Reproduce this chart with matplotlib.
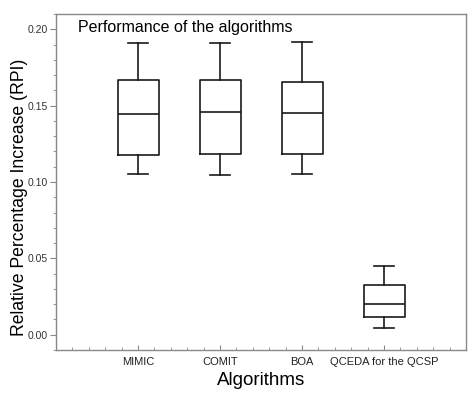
import matplotlib
matplotlib.use("Agg")
import matplotlib.pyplot as plt
from matplotlib.ticker import MultipleLocator

plt.rcParams["font.family"] = ["Liberation Sans", "DejaVu Sans"]

algorithms = ["MIMIC", "COMIT", "BOA", "QCEDA for the QCSP"]
whislo = [0.1054, 0.1046, 0.1050, 0.0042]
q1 = [0.1179, 0.1185, 0.1185, 0.0114]
med = [0.1447, 0.1458, 0.1450, 0.0201]
q3 = [0.1668, 0.1666, 0.1657, 0.0324]
whishi = [0.1912, 0.1910, 0.1919, 0.0450]

stats = []
for i in range(len(algorithms)):
    stats.append({"label": algorithms[i], "whislo": whislo[i], "q1": q1[i],
                  "med": med[i], "q3": q3[i], "whishi": whishi[i], "fliers": []})

fig = plt.figure(figsize=(4.74, 3.95), dpi=100)
ax = fig.add_axes([56/474, 1-350/395, 410/474, 336/395])

line = dict(color="#1a1a1a", linewidth=1.2)
ax.bxp(stats, positions=[1, 2, 3, 4], widths=0.5, showfliers=False,
       boxprops=line, whiskerprops=line, capprops=line, medianprops=line,
       capwidths=0.25)

ax.set_xlim(0, 5)
ax.set_ylim(-0.01, 0.21)
ax.yaxis.set_minor_locator(MultipleLocator(0.01))
ax.xaxis.set_minor_locator(MultipleLocator(0.2))
ax.set_yticks([0.0, 0.05, 0.10, 0.15, 0.20])
ax.set_yticklabels(["0.00", "0.05", "0.10", "0.15", "0.20"])
ax.set_xticks([1, 2, 3, 4])
ax.set_xticklabels(algorithms)

for s in ax.spines.values():
    s.set_color("#888888")
    s.set_linewidth(1.0)

ax.tick_params(axis="y", which="major", direction="out", length=4.3, color="#888888",
               labelsize=7.5, labelcolor="#333333", pad=1.5)
ax.tick_params(axis="y", which="minor", direction="out", length=2.2, color="#888888")
ax.tick_params(axis="x", which="major", direction="in", length=3.5, color="#888888",
               labelsize=8, labelcolor="#222222", pad=5)
ax.tick_params(axis="x", which="minor", direction="in", length=2, color="#888888")

ax.text(0.053, 0.96, "Performance of the algorithms", transform=ax.transAxes,
        fontsize=11.5, va="center", ha="left")
ax.set_ylabel("Relative Percentage Increase (RPI)", fontsize=12.7)
ax.yaxis.set_label_coords(-0.068, 0.454)
ax.set_xlabel("Algorithms", fontsize=13.5)
ax.xaxis.set_label_coords(0.5, -0.066)

fig.savefig("out.png", dpi=100)
